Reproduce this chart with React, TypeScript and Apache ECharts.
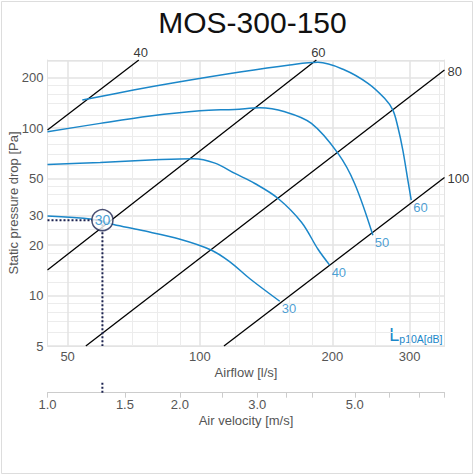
import React, { useEffect, useRef } from 'react';
import * as echarts from 'echarts';

// ---- axis ranges & ticks ----
const airflowRange = [45, 360];
const pressureRange = [5, 255];
const velocityRange = [1, 8];
const airflowLabels = [50, 100, 200, 300];
const airflowMinor = [60, 70, 80, 90, 120, 140, 160, 180, 250, 350];
const pressureLabels = [5, 10, 20, 30, 50, 100, 200];
const pressureMinor = [6, 7, 8, 9, 12, 14, 16, 18, 25, 35, 40, 45, 60, 70, 80, 90, 120, 140, 160, 180, 250];
const velocityTicks = [1, 1.5, 2, 2.5, 3, 3.5, 4, 5, 6, 7, 8];
const velocityLabels = [1, 1.5, 2, 3, 5];

// ---- system curves (black) [airflow l/s, pressure Pa] ----
const systemNames = ['40', '60', '80', '100'];
const system40 = [[45, 97.3], [72.6, 255]];
const system60 = [[45, 14.2], [184, 255]];
const system80 = [[55, 5], [360, 222]];
const system100 = [[113.4, 5], [360, 50.7]];

// ---- fan / noise curves (blue) ----
const curveNames = ['30', '40', '50', '60'];
const curve30 = [[45, 29.9], [56.9, 28.6], [63.6, 26.6], [73.1, 24.6], [90.1, 21.7], [106.3, 18.66], [117, 15.9], [129.9, 12.6], [151.9, 9.25]];
const curve40 = [[45, 60.7], [59.3, 62.4], [77, 64.4], [96.6, 65.7], [108.2, 61.8], [120.1, 53.6], [133.3, 46.7], [150.6, 38.0], [170.2, 27.4], [185.6, 18.9], [197.3, 15.2]];
const curve50 = [[45, 95], [59.3, 106.7], [77, 118], [100, 126.9], [120.1, 129.3], [136.8, 132.2], [156, 125.1], [179.3, 106.7], [206.1, 70.6], [224.8, 46.7], [247.4, 22.9]];
const curve60 = [[54, 147], [70.6, 168.7], [88, 187], [123.3, 216], [160, 238], [185.6, 247], [213.4, 222.3], [241.1, 185], [263, 150.5], [274.7, 128.1], [281.9, 101.8], [289.4, 73.9], [297.1, 48.9], [302.4, 37.1]];

// ---- operating point ----
const opPoint = [60, 28.2];
const opLabel = '30';
const opVelocity = 1.333;

const BLUE = '#1b87c9';
const NAVY = '#1c2350';
const GREY_TXT = '#555';
const FONT = '"Liberation Sans", Arial, sans-serif';

const fmt = (v: number) => String(Math.round(v * 10) / 10);

function buildOption() {
  const systems = [system40, system60, system80, system100];
  const curves = [curve30, curve40, curve50, curve60];

  const series: any[] = [];
  systems.forEach((d) => {
    series.push({
      type: 'line', xAxisIndex: 0, yAxisIndex: 0, data: d, symbol: 'none', silent: true, z: 3,
      lineStyle: { color: '#000', width: 1.3 },
    });
  });
  series.push({
    type: 'scatter', xAxisIndex: 0, yAxisIndex: 0, symbolSize: 0.1, silent: true, z: 4,
    itemStyle: { color: 'rgba(0,0,0,0)' },
    data: systems.map((d, i) => {
      const end = d[d.length - 1];
      const onTop = end[1] >= pressureRange[1] - 0.01;
      return {
        value: end,
        label: onTop
          ? { show: true, position: 'top', distance: 1, offset: [2, 0], formatter: systemNames[i], color: '#000', fontSize: 13, fontFamily: FONT }
          : { show: true, position: 'right', distance: 3, offset: [0, 1], formatter: systemNames[i], color: '#000', fontSize: 13, fontFamily: FONT },
      };
    }),
  });
  curves.forEach((d) => {
    series.push({
      type: 'line', xAxisIndex: 0, yAxisIndex: 0, data: d, symbol: 'none', silent: true, z: 5,
      smooth: 0.35,
      lineStyle: { color: BLUE, width: 1.5 },
    });
  });
  series.push({
    type: 'scatter', xAxisIndex: 0, yAxisIndex: 0, symbolSize: 0.1, silent: true, z: 6,
    itemStyle: { color: 'rgba(0,0,0,0)' },
    data: curves.map((d, i) => ({
      value: d[d.length - 1],
      label: { show: true, position: [2, 1], align: 'left', verticalAlign: 'top', formatter: curveNames[i], color: BLUE, fontSize: 13, fontFamily: FONT },
    })),
  });
  const dotted = { color: NAVY, width: 2, type: [2, 2] };
  series.push({
    type: 'line', xAxisIndex: 0, yAxisIndex: 0, symbol: 'none', silent: true, z: 7,
    data: [[airflowRange[0], opPoint[1]], opPoint], lineStyle: dotted,
  });
  series.push({
    type: 'line', xAxisIndex: 0, yAxisIndex: 0, symbol: 'none', silent: true, z: 7,
    data: [opPoint, [opPoint[0], pressureRange[0]]], lineStyle: dotted,
  });
  series.push({
    type: 'line', xAxisIndex: 2, yAxisIndex: 2, symbol: 'none', silent: true, z: 7,
    data: [[opVelocity, 0], [opVelocity, 1]], lineStyle: dotted,
  });
  series.push({
    type: 'scatter', xAxisIndex: 0, yAxisIndex: 0, silent: true, z: 10,
    symbol: 'circle', symbolSize: 21,
    itemStyle: { color: '#fff', borderColor: NAVY, borderWidth: 1.5 },
    label: { show: true, position: 'inside', formatter: opLabel, color: BLUE, fontSize: 14, fontFamily: FONT },
    data: [opPoint],
  });

  const majorSplit = { show: true, lineStyle: { color: '#e3e3e3', width: 1.5 } };
  const minorSplit = { show: true, lineStyle: { color: '#ececec', width: 1 } };
  const border = { show: true, lineStyle: { color: '#e3e3e3', width: 1 } };
  const labelStyle = { color: GREY_TXT, fontSize: 13, fontFamily: FONT };
  const nameStyle = { color: GREY_TXT, fontSize: 13, fontFamily: FONT };

  return {
    animation: false,
    textStyle: { fontFamily: FONT },
    grid: [
      { left: 47.5, top: 60, width: 397, height: 286, containLabel: false, outerBoundsMode: 'none' },
      { left: 47.5, top: 381, width: 397, height: 11.7, containLabel: false, outerBoundsMode: 'none' },
    ],
    xAxis: [
      {
        type: 'log', gridIndex: 0, min: airflowRange[0], max: airflowRange[1], position: 'bottom',
        axisLine: border, axisTick: { show: false, customValues: airflowLabels },
        axisLabel: { ...labelStyle, customValues: airflowLabels, formatter: fmt, margin: 4 },
        splitLine: majorSplit,
        name: 'Airflow [l/s]', nameLocation: 'middle', nameGap: 19.5, nameMoveOverlap: false,
        nameTextStyle: nameStyle,
      },
      {
        type: 'log', gridIndex: 0, min: airflowRange[0], max: airflowRange[1], position: 'top',
        axisLine: border, axisTick: { show: false, customValues: airflowMinor },
        axisLabel: { show: false }, splitLine: minorSplit,
      },
      {
        type: 'log', gridIndex: 1, min: velocityRange[0], max: velocityRange[1], position: 'bottom',
        axisLine: { show: true, lineStyle: { color: '#ccc', width: 1 } },
        axisTick: { show: true, customValues: velocityTicks, length: 5, lineStyle: { color: '#ccc' } },
        axisLabel: { ...labelStyle, customValues: velocityLabels, formatter: (v: number) => v.toFixed(1), margin: 5 },
        splitLine: { show: false },
        name: 'Air velocity [m/s]', nameLocation: 'middle', nameGap: 21, nameMoveOverlap: false,
        nameTextStyle: nameStyle,
      },
    ],
    yAxis: [
      {
        type: 'log', gridIndex: 0, min: pressureRange[0], max: pressureRange[1], position: 'left',
        axisLine: border, axisTick: { show: false, customValues: pressureLabels },
        axisLabel: { ...labelStyle, customValues: pressureLabels, formatter: fmt, margin: 4 },
        splitLine: majorSplit,
        name: 'Static pressure drop [Pa]', nameLocation: 'middle', nameGap: 28, nameRotate: 90, nameMoveOverlap: false,
        nameTextStyle: nameStyle,
      },
      {
        type: 'log', gridIndex: 0, min: pressureRange[0], max: pressureRange[1], position: 'right',
        axisLine: border, axisTick: { show: false, customValues: pressureMinor },
        axisLabel: { show: false }, splitLine: minorSplit,
      },
      { type: 'value', gridIndex: 1, min: 0, max: 1, show: false },
    ],
    graphic: [
      {
        type: 'rect', shape: { x: 1.5, y: 1.5, width: 471, height: 472 }, silent: true,
        style: { fill: 'none', stroke: '#dddddd', lineWidth: 1 },
      },
      {
        type: 'text', x: 252.5, y: 22, silent: true,
        style: { text: 'MOS-300-150', fontSize: 30, fill: '#111', align: 'center', verticalAlign: 'middle', fontFamily: FONT },
      },
      {
        type: 'text', x: 442.5, y: 344, silent: true,
        style: {
          text: '{a|L}{b|p10A[dB]}', align: 'right', verticalAlign: 'bottom', fontFamily: FONT,
          rich: {
            a: { fontSize: 18, fill: BLUE, color: BLUE, fontFamily: FONT, verticalAlign: 'bottom', lineHeight: 18 },
            b: { fontSize: 10.5, fill: BLUE, color: BLUE, fontFamily: FONT, verticalAlign: 'bottom', lineHeight: 13 },
          },
        },
      },
    ],
    series,
  };
}

export default function App() {
  const ref = useRef<HTMLDivElement>(null);
  useEffect(() => {
    if (!ref.current) return;
    const chart = echarts.init(ref.current, null, { renderer: 'svg' });
    chart.setOption(buildOption() as any);
    return () => chart.dispose();
  }, []);
  return (
    <div
      ref={ref}
      style={{ position: 'absolute', left: 0, top: 0, width: 475, height: 476, background: '#fff' }}
    />
  );
}
